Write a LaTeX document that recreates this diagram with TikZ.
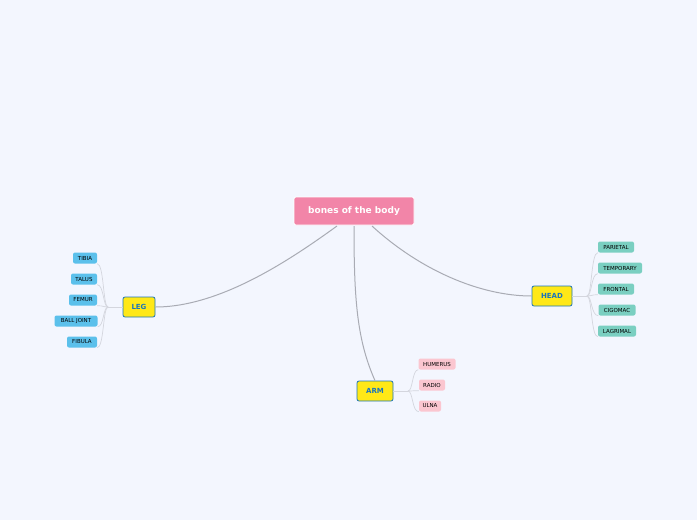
\documentclass[tikz,border=0pt]{standalone}
\usepackage{fontspec}
\setmainfont{DejaVu Sans}
\begin{document}
\begin{tikzpicture}[x=1pt,y=-1pt,
 base/.style={rounded corners=2pt,inner sep=0pt,align=center,font=\fontsize{5.5}{6}\selectfont},
 root/.style={base,fill=rootc,draw=white,line width=0.8pt,minimum width=120,minimum height=28,text=white,font=\fontsize{9}{10}\selectfont\bfseries},
 mid/.style={base,fill=yel,draw=blu,line width=0.8pt,minimum height=20,text=blu,font=\fontsize{7}{8}\selectfont\bfseries},
 legc/.style={base,fill=legf,minimum height=11},
 headc/.style={base,fill=headf,minimum height=11},
 armc/.style={base,fill=armf,minimum height=11},
 conn/.style={draw=lineg,line width=1pt},
 sub/.style={draw=subg,line width=0.7pt}]
\definecolor{rootc}{HTML}{F285A8}
\definecolor{yel}{HTML}{FFE817}
\definecolor{blu}{HTML}{1B75BB}
\definecolor{legf}{HTML}{5BC0EB}
\definecolor{headf}{HTML}{7ACFC1}
\definecolor{armf}{HTML}{FBC6D0}
\definecolor{lineg}{HTML}{A9ABB4}
\definecolor{subg}{HTML}{D4D6DE}
\fill[fill={rgb,255:red,243;green,246;blue,254}] (0,0) rectangle (697,520);
\useasboundingbox (0,0) rectangle (697,520);
\node[root] (r) at (354,211) {bones of the body};
\node[mid,minimum width=32] (leg) at (139,307) {LEG};
\node[mid,minimum width=40] (head) at (552,296) {HEAD};
\node[mid,minimum width=36] (arm) at (375,391) {ARM};
\coordinate (r1) at (337,226);
\coordinate (r2) at (372,226);
\coordinate (r3) at (354,226);
\draw[conn] (r1) .. controls (290,260) and (220,307) .. (leg.east);
\draw[conn] (r2) .. controls (420,270) and (480,296) .. (head.west);
\draw[conn] (r3) .. controls (354,300) and (357,340) .. (arm.north);
% leg children
\node[legc,minimum width=24] (l1) at (85,258) {TIBIA};
\node[legc,minimum width=26] (l2) at (84,279) {TALUS};
\node[legc,minimum width=28] (l3) at (83,300) {FEMUR};
\node[legc,minimum width=43] (l4) at (76,321) {BALL JOINT};
\node[legc,minimum width=30] (l5) at (82,342) {FIBULA};
\coordinate (lj) at (108,307);
\draw[sub] (leg.west) -- (lj);
\foreach \n in {l1,l2,l3,l4,l5}{\draw[sub] (lj) .. controls (103,307) and (104,0|-\n.south east) .. (\n.south east);}
% head children
\node[headc,minimum width=36] (h1) at (616,247) {PARIETAL};
\node[headc,minimum width=44] (h2) at (620,268) {TEMPORARY};
\node[headc,minimum width=36] (h3) at (616,289) {FRONTAL};
\node[headc,minimum width=37] (h4) at (617,310) {CIGOMAC};
\node[headc,minimum width=38] (h5) at (617,331) {LAGRIMAL};
\coordinate (hj) at (587,296);
\draw[sub] (head.east) -- (hj);
\foreach \n in {h1,h2,h3,h4,h5}{\draw[sub] (hj) .. controls (592,296) and (591,0|-\n.south west) .. (\n.south west);}
% arm children
\node[armc,minimum width=37] (a1) at (437,364) {HUMERUS};
\node[armc,minimum width=26] (a2) at (432,385) {RADIO};
\node[armc,minimum width=22] (a3) at (430,406) {ULNA};
\coordinate (aj) at (408,391);
\draw[sub] (arm.east) -- (aj);
\foreach \n in {a1,a2,a3}{\draw[sub] (aj) .. controls (413,391) and (412,0|-\n.south west) .. (\n.south west);}
\end{tikzpicture}
\end{document}
